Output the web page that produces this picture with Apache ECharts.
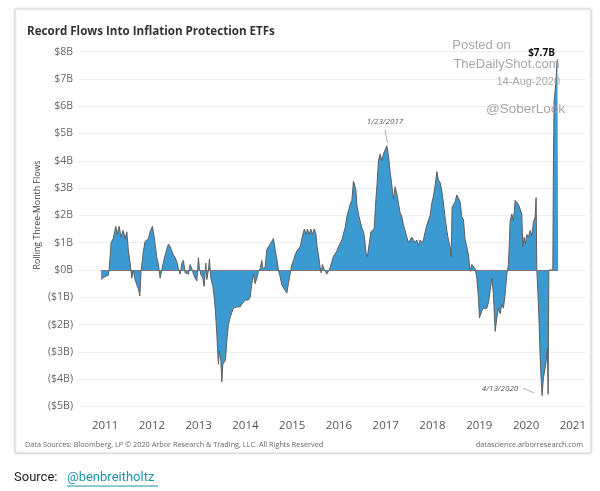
<!DOCTYPE html>
<html>
<head>
<meta charset="utf-8">
<script src="https://cdn.jsdelivr.net/npm/echarts@6/dist/echarts.min.js"></script>
<style>
  html, body { margin: 0; padding: 0; background: #fff; }
  #chart { width: 600px; height: 491px; }
</style>
</head>
<body>
<div id="chart"></div>
<script>
var years = [
  2010.914, 2010.957, 2011.021, 2011.064, 2011.086, 2011.128, 2011.171, 2011.229, 2011.257, 2011.299,
  2011.342, 2011.385, 2011.428, 2011.464, 2011.498, 2011.535, 2011.571, 2011.599, 2011.641, 2011.678,
  2011.712, 2011.742, 2011.770, 2011.819, 2011.855, 2011.892, 2011.926, 2011.962, 2012.011, 2012.041,
  2012.069, 2012.105, 2012.140, 2012.176, 2012.212, 2012.247, 2012.298, 2012.353, 2012.390, 2012.426,
  2012.460, 2012.497, 2012.533, 2012.567, 2012.604, 2012.640, 2012.674, 2012.710, 2012.781, 2012.817,
  2012.854, 2012.888, 2012.924, 2012.961, 2012.995, 2013.016, 2013.053, 2013.089, 2013.117, 2013.153,
  2013.174, 2013.209, 2013.230, 2013.260, 2013.303, 2013.331, 2013.358, 2013.388, 2013.410, 2013.422,
  2013.444, 2013.474, 2013.495, 2013.517, 2013.544, 2013.572, 2013.602, 2013.636, 2013.673, 2013.709,
  2013.743, 2013.780, 2013.816, 2013.850, 2013.886, 2013.923, 2013.957, 2013.993, 2014.030, 2014.064,
  2014.100, 2014.137, 2014.171, 2014.207, 2014.243, 2014.278, 2014.314, 2014.350, 2014.372, 2014.421,
  2014.457, 2014.492, 2014.528, 2014.564, 2014.598, 2014.635, 2014.671, 2014.705, 2014.742, 2014.778,
  2014.812, 2014.849, 2014.885, 2014.919, 2014.955, 2014.992, 2015.026, 2015.062, 2015.099, 2015.133,
  2015.169, 2015.206, 2015.240, 2015.261, 2015.291, 2015.325, 2015.362, 2015.398, 2015.432, 2015.469,
  2015.505, 2015.533, 2015.561, 2015.597, 2015.618, 2015.646, 2015.676, 2015.704, 2015.740, 2015.774,
  2015.811, 2015.847, 2015.881, 2015.918, 2015.954, 2015.988, 2016.024, 2016.061, 2016.095, 2016.131,
  2016.168, 2016.202, 2016.238, 2016.275, 2016.309, 2016.330, 2016.360, 2016.382, 2016.416, 2016.452,
  2016.488, 2016.523, 2016.544, 2016.580, 2016.608, 2016.645, 2016.681, 2016.715, 2016.751, 2016.788,
  2016.816, 2016.843, 2016.880, 2016.916, 2016.950, 2016.987, 2017.023, 2017.057, 2017.094, 2017.130,
  2017.164, 2017.200, 2017.237, 2017.271, 2017.307, 2017.344, 2017.378, 2017.414, 2017.451, 2017.485,
  2017.521, 2017.558, 2017.592, 2017.628, 2017.664, 2017.699, 2017.735, 2017.771, 2017.806, 2017.842,
  2017.878, 2017.913, 2017.949, 2017.985, 2018.019, 2018.056, 2018.092, 2018.126, 2018.163, 2018.199,
  2018.233, 2018.270, 2018.306, 2018.340, 2018.376, 2018.398, 2018.419, 2018.447, 2018.483, 2018.520,
  2018.554, 2018.590, 2018.626, 2018.661, 2018.697, 2018.733, 2018.768, 2018.804, 2018.840, 2018.874,
  2018.911, 2018.947, 2018.981, 2019.003, 2019.054, 2019.089, 2019.125, 2019.161, 2019.195, 2019.232,
  2019.268, 2019.302, 2019.339, 2019.375, 2019.409, 2019.445, 2019.482, 2019.516, 2019.552, 2019.589,
  2019.623, 2019.644, 2019.659, 2019.696, 2019.730, 2019.766, 2019.802, 2019.837, 2019.873, 2019.909,
  2019.931, 2019.959, 2019.986, 2020.016, 2020.050, 2020.087, 2020.123, 2020.157, 2020.194, 2020.215,
  2020.230, 2020.251, 2020.279, 2020.301, 2020.322, 2020.343, 2020.371, 2020.408, 2020.429, 2020.457,
  2020.472, 2020.487, 2020.572, 2020.585, 2020.600, 2020.621, 2020.642, 2020.657, 2020.670, 2020.686
];

// rolling three-month flows, $ billions
var flows = [
  -0.35, -0.28, -0.22, -0.2, 0, 1.0, 1.15, 1.6, 1.3, 1.6,
  1.2, 1.45, 1.15, 1.4, 0.7, 0.25, -0.3, 0, -0.35, -0.55,
  -0.7, -0.95, 0, 0.7, 1.05, 1.0, 1.15, 1.4, 1.6, 1.3,
  0.95, 0.45, 0.2, -0.3, 0, 0.3, 0.65, 0.95, 0.85, 0.7,
  0.55, 0.45, 0.3, 0.05, -0.15, 0.25, 0.35, -0.1, -0.15, 0.2,
  0.05, -0.15, -0.3, -0.4, 0.45, 0.05, -0.2, -0.3, -0.6, 0.25,
  -0.35, 0, 0.4, -0.3, -0.6, -1.0, -1.5, -2.35, -3.1, -3.45,
  -2.95, -3.3, -4.1, -3.45, -3.5, -3.3, -2.6, -2.0, -1.75, -1.55,
  -1.4, -1.45, -1.35, -1.3, -1.35, -1.25, -1.2, -1.1, -1.15, -1.1,
  -1.0, -0.5, -0.15, -0.5, -0.3, -0.05, 0.05, 0.35, 0.05, 0.1,
  0.75, 0.85, 0.95, 1.05, 1.15, 0.75, 0.4, 0, -0.25, -0.55,
  -0.65, -0.75, -0.85, -0.5, -0.15, 0.2, 0.35, 0.55, 0.7, 0.65,
  0.85, 0.8, 1.4, 1.5, 1.3, 1.5, 1.3, 1.5, 1.3, 1.5,
  1.35, 0.85, 0.55, 0.1, -0.1, 0.2, 0.05, -0.05, -0.15, -0.05,
  0.1, 0.3, 0.5, 0.6, 0.7, 0.85, 0.9, 1.1, 1.1, 1.55,
  1.95, 1.95, 2.4, 2.55, 3.25, 3.15, 2.95, 2.4, 2.05, 1.8,
  1.55, 1.4, 1.2, 0.6, 0.5, 0.95, 1.4, 1.35, 1.5, 2.55,
  3.2, 4.0, 4.25, 4.0, 4.25, 4.4, 4.55, 4.2, 3.6, 3.1,
  2.6, 3.05, 2.8, 2.45, 2.1, 1.95, 1.65, 1.45, 1.2, 1.0,
  1.1, 1.2, 1.1, 1.0, 1.1, 0.9, 1.1, 1.0, 1.1, 1.4,
  1.65, 1.7, 2.0, 2.45, 2.7, 3.1, 3.6, 3.3, 3.2, 2.9,
  2.45, 1.9, 1.45, 1.1, 0.85, 0.5, 2.3, 2.25, 2.5, 2.75,
  2.8, 2.5, 1.95, 1.85, 1.1, 0.85, 0.55, -0.05, 0.2, 0.25,
  0.05, -0.3, -1.0, -1.75, -1.5, -1.4, -1.35, -1.4, -1.2, -0.75,
  -0.3, -0.9, -2.25, -1.75, -1.4, -1.6, -1.25, -1.4, -0.9, -0.15,
  0.2, 1.05, 1.8, 2.05, 1.8, 2.55, 2.6, 2.4, 2.45, 2.05,
  0.85, 1.2, 0.95, 1.3, 1.2, 1.45, 1.25, 1.75, 1.95, 2.65,
  0, -0.75, -1.95, -3.2, -4.0, -4.6, -3.95, -3.6, -3.35, -2.85,
  -4.55, 0, 0, 4.0, 6.2, 6.55, 7.0, 7.55, 7.7, 7.7
];

var yearLabels = [2011, 2012, 2013, 2014, 2015, 2016, 2017, 2018, 2019, 2020, 2021];

var chart = echarts.init(document.getElementById('chart'));
var seriesData = years.map(function (y, i) { return [y, flows[i]]; });

var fontUI = '"Open Sans", "DejaVu Sans", sans-serif';

function fmtB(v) {
  return v < 0 ? '($' + (-v) + 'B)' : '$' + v + 'B';
}

chart.setOption({
  backgroundColor: '#fff',
  animation: false,
  grid: { left: 78, right: 15, top: 51.6, bottom: 84.5, containLabel: false },
  xAxis: {
    type: 'value',
    min: 2010.42,
    max: 2021.26,
    splitNumber: 10,
    axisLine: { show: false },
    axisTick: { show: false },
    splitLine: { show: false },
    axisLabel: {
      color: '#555',
      fontSize: 11.5,
      fontFamily: fontUI,
      margin: 13,
      showMinLabel: false,
      showMaxLabel: false,
      formatter: function (v) {
        return yearLabels.indexOf(v) >= 0 ? String(v) : '';
      }
    }
  },
  yAxis: {
    type: 'value',
    min: -5,
    max: 8,
    interval: 1,
    axisLine: { show: false },
    axisTick: { show: false },
    splitLine: { lineStyle: { color: '#efefef', width: 1 } },
    axisLabel: {
      color: '#666',
      fontSize: 10.5,
      fontFamily: fontUI,
      margin: 5,
      formatter: fmtB
    }
  },
  series: [{
    type: 'line',
    data: seriesData,
    showSymbol: false,
    symbol: 'none',
    sampling: 'none',
    lineStyle: { color: '#5f5f5f', width: 1 },
    areaStyle: { color: '#3b9ad2', opacity: 1, origin: 0 },
    markLine: {
      silent: true,
      symbol: 'none',
      label: { show: false },
      lineStyle: { color: '#777', width: 1, type: 'solid' },
      data: [[{ coord: [years[0], 0] }, { coord: [years[years.length - 1], 0] }]]
    }
  }],
  graphic: [
    // frame
    { type: 'rect', z: -10, shape: { x: 15, y: 9, width: 576, height: 444 },
      style: { fill: '#fff', stroke: '#d6d6d6', lineWidth: 1, shadowBlur: 3, shadowColor: 'rgba(0,0,0,0.12)' } },
    { type: 'text', x: 27, y: 31.7,
      style: { text: 'Record Flows Into Inflation Protection ETFs', fill: '#333', font: 'bold 11.6px ' + fontUI, textVerticalAlign: 'middle' } },
    { type: 'text', x: 37.5, y: 215, rotation: Math.PI / 2,
      style: { text: 'Rolling Three-Month Flows', fill: '#444', font: '8.8px ' + fontUI, textAlign: 'center', textVerticalAlign: 'middle' } },
    // peak labels
    { type: 'text', x: 541.5, y: 52.7, z: 20,
      style: { text: '$7.7B', fill: '#111', font: 'bold 10px ' + fontUI, textAlign: 'center', textVerticalAlign: 'middle' } },
    { type: 'text', x: 385, y: 122, z: 20,
      style: { text: '1/23/2017', fill: '#555', font: 'italic 8px ' + fontUI, textAlign: 'center', textVerticalAlign: 'middle' } },
    { type: 'line', z: 20, shape: { x1: 385, y1: 130, x2: 387.5, y2: 143 }, style: { stroke: '#999', lineWidth: 0.8 } },
    { type: 'text', x: 500, y: 389, z: 20,
      style: { text: '4/13/2020', fill: '#555', font: 'italic 8px ' + fontUI, textAlign: 'center', textVerticalAlign: 'middle' } },
    { type: 'line', z: 20, shape: { x1: 523, y1: 388, x2: 534, y2: 393 }, style: { stroke: '#999', lineWidth: 0.8 } },
    // watermark
    { type: 'text', x: 481.5, y: 45.3, z: 30,
      style: { text: 'Posted on', fill: 'rgba(150,150,150,0.85)', font: '13px "Liberation Sans", Arial, sans-serif', textAlign: 'center', textVerticalAlign: 'middle' } },
    { type: 'text', x: 506.5, y: 64.3, z: 30,
      style: { text: 'TheDailyShot.com', fill: 'rgba(150,150,150,0.85)', font: '13px "Liberation Sans", Arial, sans-serif', textAlign: 'center', textVerticalAlign: 'middle' } },
    { type: 'text', x: 560, y: 81.7, z: 30,
      style: { text: '14-Aug-2020', fill: 'rgba(150,150,150,0.85)', font: '11px "Liberation Sans", Arial, sans-serif', textAlign: 'right', textVerticalAlign: 'middle' } },
    { type: 'text', x: 525.5, y: 109.3, z: 30,
      style: { text: '@SoberLook', fill: 'rgba(150,150,150,0.85)', font: '13.5px "Liberation Sans", Arial, sans-serif', textAlign: 'center', textVerticalAlign: 'middle' } },
    // footer
    { type: 'text', x: 25, y: 445,
      style: { text: 'Data Sources: Bloomberg, LP \u00a9 2020 Arbor Research & Trading, LLC. All Rights Reserved', fill: '#666', font: '7.3px ' + fontUI, textVerticalAlign: 'middle' } },
    { type: 'text', x: 583, y: 445,
      style: { text: 'datascience.arborresearch.com', fill: '#666', font: '7.3px ' + fontUI, textAlign: 'right', textVerticalAlign: 'middle' } },
    // source line below the frame
    { type: 'text', x: 14, y: 478,
      style: { text: 'Source: ', fill: '#222', font: '13px Roboto, sans-serif', textVerticalAlign: 'middle' } },
    { type: 'text', x: 67, y: 478,
      style: { text: '@benbreitholtz', fill: '#1e93a3', font: '13px Roboto, sans-serif', textVerticalAlign: 'middle' } },
    { type: 'line', shape: { x1: 67, y1: 486, x2: 158, y2: 486 }, style: { stroke: '#1e93a3', lineWidth: 1 } }
  ]
});
</script>
</body>
</html>
